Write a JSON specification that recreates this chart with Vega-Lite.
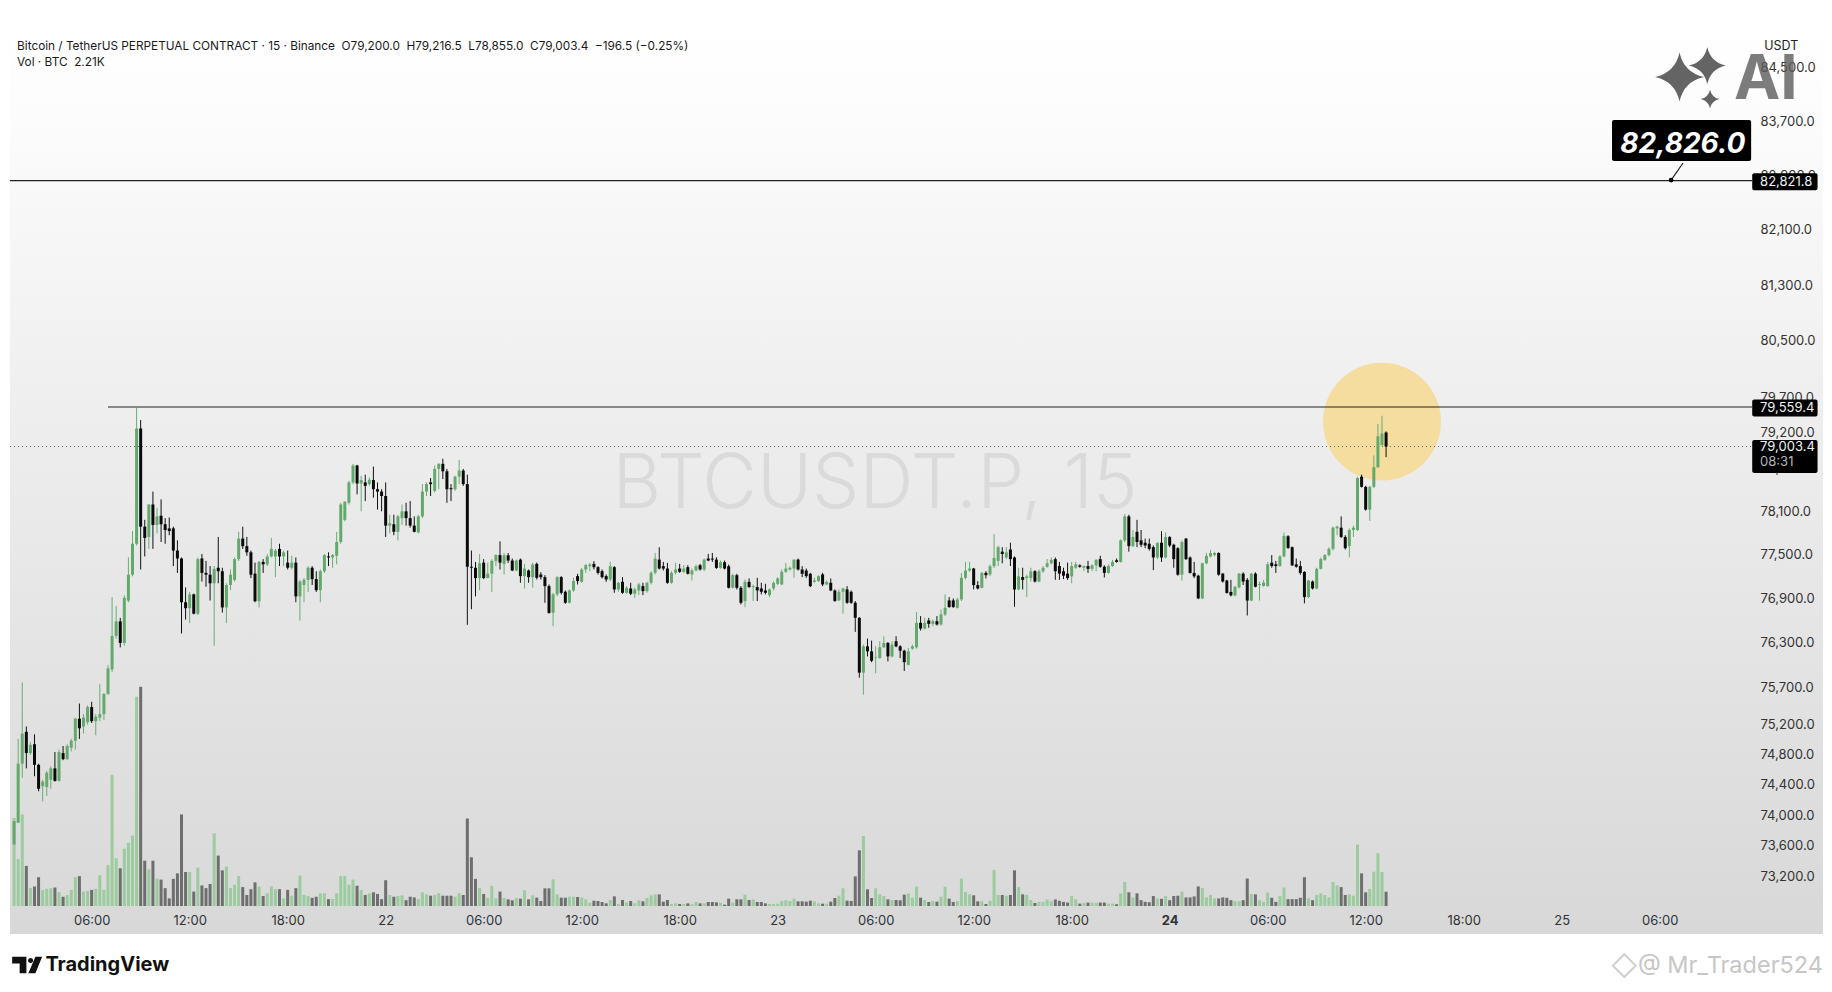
{
  "$schema": "https://vega.github.io/schema/vega-lite/v6.json",
  "description": "BTCUSDT.P 15 minute candles with volume, TradingView style",
  "width": 1813,
  "height": 907,
  "padding": {"left": 10, "top": 27, "right": 9, "bottom": 58},
  "autosize": "none",
  "background": "#ffffff",
  "config": {
    "font": "Inter",
    "view": {"stroke": null, "fill": {"gradient": "linear", "x1": 0, "y1": 0, "x2": 0, "y2": 1, "stops": [{"offset": 0, "color": "#ffffff"}, {"offset": 0.1, "color": "#fcfcfc"}, {"offset": 0.45, "color": "#ededed"}, {"offset": 1, "color": "#d8d8d8"}]}}
  },
  "datasets": {
    "candles": [
{"t":"2026-04-21T01:15","o":73616,"h":73923,"l":73616,"c":73923,"v":13620},
{"t":"2026-04-21T01:30","o":73900,"h":75009,"l":73900,"c":74678,"v":7260},
{"t":"2026-04-21T01:45","o":74678,"h":75764,"l":74490,"c":75080,"v":14150},
{"t":"2026-04-21T02:00","o":75103,"h":75174,"l":74617,"c":74820,"v":6200},
{"t":"2026-04-21T02:15","o":74820,"h":74962,"l":74796,"c":74929,"v":2756},
{"t":"2026-04-21T02:30","o":74938,"h":75070,"l":74513,"c":74664,"v":3020},
{"t":"2026-04-21T02:45","o":74664,"h":74678,"l":74315,"c":74348,"v":4450},
{"t":"2026-04-21T03:00","o":74381,"h":74466,"l":74183,"c":74442,"v":2490},
{"t":"2026-04-21T03:15","o":74372,"h":74584,"l":74254,"c":74560,"v":2650},
{"t":"2026-04-21T03:30","o":74466,"h":74645,"l":74348,"c":74617,"v":2756},
{"t":"2026-04-21T03:45","o":74617,"h":74834,"l":74442,"c":74452,"v":2860},
{"t":"2026-04-21T04:00","o":74452,"h":74867,"l":74442,"c":74834,"v":2120},
{"t":"2026-04-21T04:15","o":74820,"h":74914,"l":74726,"c":74740,"v":1430},
{"t":"2026-04-21T04:30","o":74740,"h":74938,"l":74726,"c":74914,"v":1700},
{"t":"2026-04-21T04:45","o":74891,"h":75009,"l":74844,"c":74985,"v":2490},
{"t":"2026-04-21T05:00","o":74985,"h":75292,"l":74867,"c":75278,"v":4450},
{"t":"2026-04-21T05:15","o":75278,"h":75481,"l":75009,"c":75150,"v":4610},
{"t":"2026-04-21T05:30","o":75174,"h":75339,"l":75080,"c":75292,"v":2230},
{"t":"2026-04-21T05:45","o":75231,"h":75457,"l":75198,"c":75434,"v":2330},
{"t":"2026-04-21T06:00","o":75434,"h":75504,"l":75221,"c":75245,"v":2490},
{"t":"2026-04-21T06:15","o":75245,"h":75339,"l":75056,"c":75306,"v":2650},
{"t":"2026-04-21T06:30","o":75292,"h":75740,"l":75245,"c":75339,"v":4770},
{"t":"2026-04-21T06:45","o":75339,"h":75622,"l":75259,"c":75608,"v":2490},
{"t":"2026-04-21T07:00","o":75608,"h":76000,"l":75599,"c":75953,"v":6310},
{"t":"2026-04-21T07:15","o":75939,"h":76920,"l":75906,"c":76392,"v":20250},
{"t":"2026-04-21T07:30","o":76392,"h":76802,"l":76354,"c":76590,"v":7370},
{"t":"2026-04-21T07:45","o":76590,"h":76637,"l":76236,"c":76297,"v":5830},
{"t":"2026-04-21T08:00","o":76297,"h":76944,"l":76260,"c":76911,"v":8850},
{"t":"2026-04-21T08:15","o":76873,"h":77463,"l":76850,"c":77227,"v":9750},
{"t":"2026-04-21T08:30","o":77227,"h":77827,"l":77204,"c":77652,"v":10870},
{"t":"2026-04-21T08:45","o":77652,"h":79560,"l":77628,"c":79257,"v":32330},
{"t":"2026-04-21T09:00","o":79257,"h":79375,"l":77298,"c":77888,"v":33870},
{"t":"2026-04-21T09:15","o":77888,"h":77982,"l":77477,"c":77732,"v":7000},
{"t":"2026-04-21T09:30","o":77746,"h":78195,"l":77581,"c":78195,"v":5670},
{"t":"2026-04-21T09:45","o":78195,"h":78374,"l":77581,"c":77912,"v":7000},
{"t":"2026-04-21T10:00","o":77912,"h":78148,"l":77794,"c":78030,"v":4240},
{"t":"2026-04-21T10:15","o":78039,"h":78266,"l":77676,"c":77921,"v":4080},
{"t":"2026-04-21T10:30","o":77921,"h":78006,"l":77652,"c":77841,"v":2760},
{"t":"2026-04-21T10:45","o":77864,"h":78015,"l":77770,"c":77827,"v":1170},
{"t":"2026-04-21T11:00","o":77864,"h":77888,"l":77345,"c":77558,"v":4190},
{"t":"2026-04-21T11:15","o":77558,"h":77699,"l":77251,"c":77449,"v":5040},
{"t":"2026-04-21T11:30","o":77449,"h":77463,"l":76425,"c":76850,"v":14150},
{"t":"2026-04-21T11:45","o":76850,"h":77053,"l":76614,"c":76769,"v":5250},
{"t":"2026-04-21T12:00","o":76769,"h":76991,"l":76566,"c":76958,"v":5250},
{"t":"2026-04-21T12:15","o":76958,"h":76968,"l":76684,"c":76694,"v":2230},
{"t":"2026-04-21T12:30","o":76694,"h":77463,"l":76675,"c":77440,"v":5940},
{"t":"2026-04-21T12:45","o":77449,"h":77510,"l":77133,"c":77251,"v":3180},
{"t":"2026-04-21T13:00","o":77251,"h":77416,"l":77062,"c":77227,"v":2760},
{"t":"2026-04-21T13:15","o":77227,"h":77345,"l":76873,"c":77109,"v":3390},
{"t":"2026-04-21T13:30","o":77109,"h":77345,"l":76260,"c":77307,"v":11240},
{"t":"2026-04-21T13:45","o":77322,"h":77746,"l":77109,"c":77274,"v":7790},
{"t":"2026-04-21T14:00","o":77274,"h":77322,"l":76708,"c":76779,"v":5510},
{"t":"2026-04-21T14:15","o":76779,"h":77109,"l":76566,"c":77086,"v":6100},
{"t":"2026-04-21T14:30","o":77086,"h":77298,"l":77015,"c":77227,"v":2760},
{"t":"2026-04-21T14:45","o":77156,"h":77463,"l":77133,"c":77440,"v":3290},
{"t":"2026-04-21T15:00","o":77440,"h":77817,"l":77416,"c":77723,"v":4610},
{"t":"2026-04-21T15:15","o":77723,"h":77888,"l":77581,"c":77619,"v":2920},
{"t":"2026-04-21T15:30","o":77619,"h":77746,"l":77487,"c":77534,"v":1700},
{"t":"2026-04-21T15:45","o":77534,"h":77558,"l":77180,"c":77227,"v":2600},
{"t":"2026-04-21T16:00","o":77241,"h":77392,"l":76850,"c":76864,"v":3660},
{"t":"2026-04-21T16:15","o":76864,"h":77416,"l":76779,"c":77402,"v":3020},
{"t":"2026-04-21T16:30","o":77402,"h":77440,"l":77251,"c":77369,"v":1540},
{"t":"2026-04-21T16:45","o":77369,"h":77510,"l":77345,"c":77477,"v":1960},
{"t":"2026-04-21T17:00","o":77477,"h":77732,"l":77463,"c":77581,"v":3020},
{"t":"2026-04-21T17:15","o":77477,"h":77581,"l":77194,"c":77558,"v":2600},
{"t":"2026-04-21T17:30","o":77581,"h":77652,"l":77345,"c":77477,"v":2600},
{"t":"2026-04-21T17:45","o":77477,"h":77558,"l":77345,"c":77534,"v":1170},
{"t":"2026-04-21T18:00","o":77392,"h":77558,"l":77298,"c":77322,"v":2490},
{"t":"2026-04-21T18:15","o":77322,"h":77487,"l":77298,"c":77392,"v":1590},
{"t":"2026-04-21T18:30","o":77392,"h":77463,"l":76850,"c":76930,"v":2760},
{"t":"2026-04-21T18:45","o":76930,"h":77156,"l":76600,"c":77133,"v":4720},
{"t":"2026-04-21T19:00","o":77086,"h":77180,"l":76850,"c":77156,"v":1700},
{"t":"2026-04-21T19:15","o":77156,"h":77345,"l":76991,"c":77322,"v":1540},
{"t":"2026-04-21T19:30","o":77322,"h":77345,"l":77086,"c":77166,"v":1270},
{"t":"2026-04-21T19:45","o":77166,"h":77274,"l":76991,"c":77015,"v":1430},
{"t":"2026-04-21T20:00","o":77015,"h":77298,"l":76850,"c":77274,"v":1960},
{"t":"2026-04-21T20:15","o":77274,"h":77510,"l":77251,"c":77496,"v":1960},
{"t":"2026-04-21T20:30","o":77477,"h":77534,"l":77345,"c":77463,"v":1060},
{"t":"2026-04-21T20:45","o":77463,"h":77510,"l":77322,"c":77496,"v":1060},
{"t":"2026-04-21T21:00","o":77487,"h":77817,"l":77369,"c":77676,"v":1960},
{"t":"2026-04-21T21:15","o":77676,"h":78218,"l":77652,"c":78195,"v":4610},
{"t":"2026-04-21T21:30","o":77982,"h":78242,"l":77959,"c":78233,"v":4610},
{"t":"2026-04-21T21:45","o":78218,"h":78525,"l":78195,"c":78502,"v":3290},
{"t":"2026-04-21T22:00","o":78502,"h":78761,"l":78478,"c":78738,"v":4080},
{"t":"2026-04-21T22:15","o":78738,"h":78747,"l":78336,"c":78487,"v":3130},
{"t":"2026-04-21T22:30","o":78487,"h":78596,"l":78100,"c":78535,"v":2490},
{"t":"2026-04-21T22:45","o":78502,"h":78610,"l":78242,"c":78454,"v":1700},
{"t":"2026-04-21T23:00","o":78478,"h":78572,"l":78454,"c":78539,"v":1960},
{"t":"2026-04-21T23:15","o":78535,"h":78723,"l":78289,"c":78407,"v":2120},
{"t":"2026-04-21T23:30","o":78407,"h":78502,"l":78124,"c":78374,"v":1860},
{"t":"2026-04-21T23:45","o":78374,"h":78407,"l":78100,"c":78313,"v":1060},
{"t":"2026-04-22T00:00","o":78313,"h":78502,"l":77746,"c":77902,"v":3980},
{"t":"2026-04-22T00:15","o":77902,"h":78053,"l":77794,"c":77935,"v":1700},
{"t":"2026-04-22T00:30","o":77921,"h":78053,"l":77770,"c":77817,"v":1430},
{"t":"2026-04-22T00:45","o":77817,"h":78053,"l":77699,"c":78030,"v":1540},
{"t":"2026-04-22T01:00","o":78006,"h":78195,"l":77912,"c":78100,"v":1640},
{"t":"2026-04-22T01:15","o":78100,"h":78218,"l":77902,"c":78006,"v":900},
{"t":"2026-04-22T01:30","o":78006,"h":78242,"l":77874,"c":77902,"v":1430},
{"t":"2026-04-22T01:45","o":77902,"h":78030,"l":77808,"c":77817,"v":1330},
{"t":"2026-04-22T02:00","o":77808,"h":78053,"l":77794,"c":78030,"v":1060},
{"t":"2026-04-22T02:15","o":78030,"h":78478,"l":78006,"c":78374,"v":2120},
{"t":"2026-04-22T02:30","o":78374,"h":78502,"l":78313,"c":78478,"v":1800},
{"t":"2026-04-22T02:45","o":78502,"h":78563,"l":78313,"c":78478,"v":1590},
{"t":"2026-04-22T03:00","o":78384,"h":78738,"l":78360,"c":78690,"v":1700},
{"t":"2026-04-22T03:15","o":78690,"h":78771,"l":78407,"c":78761,"v":1960},
{"t":"2026-04-22T03:30","o":78761,"h":78832,"l":78549,"c":78657,"v":1590},
{"t":"2026-04-22T03:45","o":78657,"h":78690,"l":78218,"c":78407,"v":1590},
{"t":"2026-04-22T04:00","o":78421,"h":78478,"l":78242,"c":78407,"v":1590},
{"t":"2026-04-22T04:15","o":78407,"h":78596,"l":78384,"c":78582,"v":1430},
{"t":"2026-04-22T04:30","o":78582,"h":78818,"l":78478,"c":78667,"v":1960},
{"t":"2026-04-22T04:45","o":78667,"h":78690,"l":78454,"c":78478,"v":1700},
{"t":"2026-04-22T05:00","o":78478,"h":78610,"l":76543,"c":77336,"v":13520},
{"t":"2026-04-22T05:15","o":77336,"h":77558,"l":76755,"c":77322,"v":7530},
{"t":"2026-04-22T05:30","o":77322,"h":77402,"l":76930,"c":77180,"v":4190},
{"t":"2026-04-22T05:45","o":77180,"h":77510,"l":77015,"c":77383,"v":2760},
{"t":"2026-04-22T06:00","o":77392,"h":77440,"l":77166,"c":77180,"v":1860},
{"t":"2026-04-22T06:15","o":77180,"h":77392,"l":77180,"c":77241,"v":1270},
{"t":"2026-04-22T06:30","o":77241,"h":77440,"l":76991,"c":77416,"v":3130},
{"t":"2026-04-22T06:45","o":77416,"h":77510,"l":77345,"c":77496,"v":1170},
{"t":"2026-04-22T07:00","o":77496,"h":77685,"l":77298,"c":77392,"v":2230},
{"t":"2026-04-22T07:15","o":77375,"h":77525,"l":77230,"c":77493,"v":1240},
{"t":"2026-04-22T07:30","o":77493,"h":77525,"l":77389,"c":77421,"v":1030},
{"t":"2026-04-22T07:45","o":77421,"h":77448,"l":77275,"c":77284,"v":880},
{"t":"2026-04-22T08:00","o":77284,"h":77434,"l":77275,"c":77421,"v":1240},
{"t":"2026-04-22T08:15","o":77434,"h":77448,"l":77116,"c":77207,"v":1130},
{"t":"2026-04-22T08:30","o":77207,"h":77375,"l":77038,"c":77311,"v":2420},
{"t":"2026-04-22T08:45","o":77284,"h":77298,"l":77116,"c":77193,"v":1030},
{"t":"2026-04-22T09:00","o":77193,"h":77389,"l":77048,"c":77366,"v":1650},
{"t":"2026-04-22T09:15","o":77375,"h":77393,"l":77161,"c":77184,"v":1290},
{"t":"2026-04-22T09:30","o":77230,"h":77261,"l":77161,"c":77193,"v":770},
{"t":"2026-04-22T09:45","o":77193,"h":77220,"l":76843,"c":77070,"v":2730},
{"t":"2026-04-22T10:00","o":77070,"h":77093,"l":76693,"c":76706,"v":2730},
{"t":"2026-04-22T10:15","o":76706,"h":76979,"l":76524,"c":76957,"v":4120},
{"t":"2026-04-22T10:30","o":76957,"h":77207,"l":76934,"c":77193,"v":1800},
{"t":"2026-04-22T10:45","o":77193,"h":77207,"l":76957,"c":76979,"v":1290},
{"t":"2026-04-22T11:00","o":76993,"h":77011,"l":76829,"c":76843,"v":1290},
{"t":"2026-04-22T11:15","o":76843,"h":77025,"l":76834,"c":77011,"v":1440},
{"t":"2026-04-22T11:30","o":77011,"h":77184,"l":76993,"c":77139,"v":1440},
{"t":"2026-04-22T11:45","o":77207,"h":77239,"l":77093,"c":77139,"v":1390},
{"t":"2026-04-22T12:00","o":77129,"h":77320,"l":77116,"c":77298,"v":1290},
{"t":"2026-04-22T12:15","o":77298,"h":77375,"l":77252,"c":77357,"v":1030},
{"t":"2026-04-22T12:30","o":77343,"h":77389,"l":77275,"c":77366,"v":520},
{"t":"2026-04-22T12:45","o":77375,"h":77412,"l":77298,"c":77330,"v":820},
{"t":"2026-04-22T13:00","o":77330,"h":77343,"l":77230,"c":77252,"v":770},
{"t":"2026-04-22T13:15","o":77275,"h":77298,"l":77175,"c":77193,"v":620},
{"t":"2026-04-22T13:30","o":77207,"h":77230,"l":77129,"c":77161,"v":410},
{"t":"2026-04-22T13:45","o":77161,"h":77402,"l":77139,"c":77343,"v":930},
{"t":"2026-04-22T14:00","o":77330,"h":77343,"l":76979,"c":77025,"v":1490},
{"t":"2026-04-22T14:15","o":77025,"h":77129,"l":76993,"c":77116,"v":310},
{"t":"2026-04-22T14:30","o":77129,"h":77193,"l":76966,"c":76979,"v":930},
{"t":"2026-04-22T14:45","o":76979,"h":77070,"l":76966,"c":77048,"v":520},
{"t":"2026-04-22T15:00","o":77038,"h":77116,"l":76947,"c":76966,"v":770},
{"t":"2026-04-22T15:15","o":76966,"h":77048,"l":76911,"c":77025,"v":410},
{"t":"2026-04-22T15:30","o":77011,"h":77116,"l":76947,"c":77093,"v":880},
{"t":"2026-04-22T15:45","o":77070,"h":77116,"l":76947,"c":77002,"v":720},
{"t":"2026-04-22T16:00","o":77002,"h":77129,"l":76979,"c":77116,"v":1240},
{"t":"2026-04-22T16:15","o":77116,"h":77275,"l":77093,"c":77252,"v":1650},
{"t":"2026-04-22T16:30","o":77252,"h":77525,"l":77230,"c":77448,"v":1800},
{"t":"2026-04-22T16:45","o":77434,"h":77603,"l":77298,"c":77311,"v":1800},
{"t":"2026-04-22T17:00","o":77343,"h":77402,"l":77284,"c":77311,"v":670},
{"t":"2026-04-22T17:15","o":77311,"h":77389,"l":77102,"c":77116,"v":930},
{"t":"2026-04-22T17:30","o":77116,"h":77275,"l":77102,"c":77252,"v":310},
{"t":"2026-04-22T17:45","o":77252,"h":77389,"l":77230,"c":77298,"v":410},
{"t":"2026-04-22T18:00","o":77311,"h":77375,"l":77252,"c":77266,"v":310},
{"t":"2026-04-22T18:15","o":77266,"h":77357,"l":77252,"c":77311,"v":310},
{"t":"2026-04-22T18:30","o":77330,"h":77357,"l":77230,"c":77239,"v":410},
{"t":"2026-04-22T18:45","o":77230,"h":77311,"l":77148,"c":77284,"v":260},
{"t":"2026-04-22T19:00","o":77284,"h":77366,"l":77275,"c":77343,"v":620},
{"t":"2026-04-22T19:15","o":77357,"h":77375,"l":77284,"c":77298,"v":410},
{"t":"2026-04-22T19:30","o":77298,"h":77448,"l":77275,"c":77434,"v":410},
{"t":"2026-04-22T19:45","o":77448,"h":77512,"l":77412,"c":77421,"v":620},
{"t":"2026-04-22T20:00","o":77448,"h":77525,"l":77402,"c":77434,"v":620},
{"t":"2026-04-22T20:15","o":77434,"h":77466,"l":77307,"c":77320,"v":570},
{"t":"2026-04-22T20:30","o":77320,"h":77421,"l":77307,"c":77398,"v":520},
{"t":"2026-04-22T20:45","o":77398,"h":77421,"l":77298,"c":77311,"v":210},
{"t":"2026-04-22T21:00","o":77343,"h":77366,"l":77038,"c":77048,"v":1130},
{"t":"2026-04-22T21:15","o":77048,"h":77239,"l":77038,"c":77220,"v":520},
{"t":"2026-04-22T21:30","o":77220,"h":77239,"l":77025,"c":77048,"v":1030},
{"t":"2026-04-22T21:45","o":77048,"h":77070,"l":76820,"c":76843,"v":1030},
{"t":"2026-04-22T22:00","o":76866,"h":77161,"l":76784,"c":77129,"v":1750},
{"t":"2026-04-22T22:15","o":77129,"h":77175,"l":77048,"c":77057,"v":930},
{"t":"2026-04-22T22:30","o":77057,"h":77093,"l":76866,"c":77070,"v":1030},
{"t":"2026-04-22T22:45","o":77057,"h":77184,"l":76866,"c":77011,"v":620},
{"t":"2026-04-22T23:00","o":77038,"h":77116,"l":76957,"c":76993,"v":620},
{"t":"2026-04-22T23:15","o":77011,"h":77102,"l":76957,"c":76979,"v":410},
{"t":"2026-04-22T23:30","o":76947,"h":77038,"l":76920,"c":77025,"v":310},
{"t":"2026-04-22T23:45","o":77038,"h":77139,"l":77011,"c":77116,"v":310},
{"t":"2026-04-23T00:00","o":77102,"h":77193,"l":77084,"c":77175,"v":360},
{"t":"2026-04-23T00:15","o":77093,"h":77298,"l":77084,"c":77266,"v":770},
{"t":"2026-04-23T00:30","o":77266,"h":77389,"l":77252,"c":77311,"v":880},
{"t":"2026-04-23T00:45","o":77298,"h":77343,"l":77284,"c":77320,"v":770},
{"t":"2026-04-23T01:00","o":77311,"h":77434,"l":77184,"c":77434,"v":1130},
{"t":"2026-04-23T01:15","o":77434,"h":77448,"l":77284,"c":77298,"v":720},
{"t":"2026-04-23T01:30","o":77298,"h":77343,"l":77193,"c":77239,"v":720},
{"t":"2026-04-23T01:45","o":77284,"h":77311,"l":77184,"c":77207,"v":670},
{"t":"2026-04-23T02:00","o":77239,"h":77252,"l":77057,"c":77070,"v":820},
{"t":"2026-04-23T02:15","o":77129,"h":77184,"l":77116,"c":77148,"v":720},
{"t":"2026-04-23T02:30","o":77139,"h":77220,"l":77129,"c":77207,"v":410},
{"t":"2026-04-23T02:45","o":77230,"h":77252,"l":77070,"c":77093,"v":360},
{"t":"2026-04-23T03:00","o":77093,"h":77148,"l":77084,"c":77129,"v":360},
{"t":"2026-04-23T03:15","o":77116,"h":77175,"l":77002,"c":77011,"v":670},
{"t":"2026-04-23T03:30","o":77011,"h":77025,"l":76857,"c":76866,"v":1240},
{"t":"2026-04-23T03:45","o":76875,"h":77025,"l":76866,"c":76993,"v":1600},
{"t":"2026-04-23T04:00","o":76993,"h":77048,"l":76693,"c":77038,"v":2730},
{"t":"2026-04-23T04:15","o":77025,"h":77070,"l":76829,"c":76843,"v":820},
{"t":"2026-04-23T04:30","o":76993,"h":77011,"l":76829,"c":76843,"v":770},
{"t":"2026-04-23T04:45","o":76843,"h":76866,"l":76447,"c":76638,"v":4580},
{"t":"2026-04-23T05:00","o":76638,"h":76647,"l":75828,"c":75896,"v":8600},
{"t":"2026-04-23T05:15","o":75896,"h":76274,"l":75601,"c":76251,"v":10820},
{"t":"2026-04-23T05:30","o":76251,"h":76356,"l":76115,"c":76183,"v":2580},
{"t":"2026-04-23T05:45","o":76183,"h":76329,"l":76037,"c":76056,"v":1240},
{"t":"2026-04-23T06:00","o":76092,"h":76251,"l":75887,"c":76101,"v":2730},
{"t":"2026-04-23T06:15","o":76092,"h":76320,"l":76083,"c":76238,"v":1800},
{"t":"2026-04-23T06:30","o":76238,"h":76388,"l":76229,"c":76297,"v":1550},
{"t":"2026-04-23T06:45","o":76297,"h":76310,"l":76047,"c":76115,"v":1030},
{"t":"2026-04-23T07:00","o":76115,"h":76320,"l":76101,"c":76274,"v":930},
{"t":"2026-04-23T07:15","o":76320,"h":76388,"l":76238,"c":76251,"v":930},
{"t":"2026-04-23T07:30","o":76251,"h":76265,"l":76092,"c":76192,"v":880},
{"t":"2026-04-23T07:45","o":76192,"h":76206,"l":75919,"c":76037,"v":1750},
{"t":"2026-04-23T08:00","o":76001,"h":76229,"l":75992,"c":76183,"v":1960},
{"t":"2026-04-23T08:15","o":76219,"h":76274,"l":76206,"c":76251,"v":1290},
{"t":"2026-04-23T08:30","o":76238,"h":76715,"l":76219,"c":76570,"v":2990},
{"t":"2026-04-23T08:45","o":76570,"h":76661,"l":76465,"c":76492,"v":1290},
{"t":"2026-04-23T09:00","o":76492,"h":76638,"l":76479,"c":76570,"v":930},
{"t":"2026-04-23T09:15","o":76602,"h":76638,"l":76502,"c":76556,"v":620},
{"t":"2026-04-23T09:30","o":76556,"h":76615,"l":76524,"c":76592,"v":770},
{"t":"2026-04-23T09:45","o":76592,"h":76661,"l":76533,"c":76547,"v":670},
{"t":"2026-04-23T10:00","o":76547,"h":76752,"l":76533,"c":76684,"v":1440},
{"t":"2026-04-23T10:15","o":76684,"h":76957,"l":76661,"c":76775,"v":2990},
{"t":"2026-04-23T10:30","o":76875,"h":76920,"l":76775,"c":76784,"v":1130},
{"t":"2026-04-23T10:45","o":76875,"h":76902,"l":76775,"c":76784,"v":620},
{"t":"2026-04-23T11:00","o":76775,"h":76911,"l":76765,"c":76888,"v":770},
{"t":"2026-04-23T11:15","o":76888,"h":77252,"l":76866,"c":77184,"v":4220},
{"t":"2026-04-23T11:30","o":77184,"h":77402,"l":77161,"c":77284,"v":2160},
{"t":"2026-04-23T11:45","o":77284,"h":77402,"l":77266,"c":77311,"v":1800},
{"t":"2026-04-23T12:00","o":77311,"h":77320,"l":77025,"c":77084,"v":1650},
{"t":"2026-04-23T12:15","o":77084,"h":77139,"l":77025,"c":77038,"v":720},
{"t":"2026-04-23T12:30","o":77048,"h":77261,"l":77038,"c":77252,"v":720},
{"t":"2026-04-23T12:45","o":77252,"h":77275,"l":77175,"c":77220,"v":310},
{"t":"2026-04-23T13:00","o":77230,"h":77366,"l":77207,"c":77343,"v":820},
{"t":"2026-04-23T13:15","o":77343,"h":77785,"l":77320,"c":77457,"v":5560},
{"t":"2026-04-23T13:30","o":77416,"h":77628,"l":77345,"c":77605,"v":1700},
{"t":"2026-04-23T13:45","o":77543,"h":77605,"l":77383,"c":77510,"v":1700},
{"t":"2026-04-23T14:00","o":77463,"h":77605,"l":77440,"c":77534,"v":1590},
{"t":"2026-04-23T14:15","o":77572,"h":77666,"l":77345,"c":77440,"v":1700},
{"t":"2026-04-23T14:30","o":77463,"h":77477,"l":76788,"c":77024,"v":5510},
{"t":"2026-04-23T14:45","o":77024,"h":77322,"l":77015,"c":77204,"v":2920},
{"t":"2026-04-23T15:00","o":77194,"h":77322,"l":77024,"c":77156,"v":1800},
{"t":"2026-04-23T15:15","o":77180,"h":77227,"l":76920,"c":77204,"v":1700},
{"t":"2026-04-23T15:30","o":77180,"h":77322,"l":77133,"c":77274,"v":900},
{"t":"2026-04-23T15:45","o":77274,"h":77289,"l":77119,"c":77133,"v":480},
{"t":"2026-04-23T16:00","o":77133,"h":77298,"l":77123,"c":77274,"v":640},
{"t":"2026-04-23T16:15","o":77274,"h":77345,"l":77251,"c":77322,"v":640},
{"t":"2026-04-23T16:30","o":77336,"h":77440,"l":77322,"c":77383,"v":1010},
{"t":"2026-04-23T16:45","o":77383,"h":77463,"l":77369,"c":77430,"v":740},
{"t":"2026-04-23T17:00","o":77440,"h":77463,"l":77156,"c":77274,"v":1010},
{"t":"2026-04-23T17:15","o":77345,"h":77402,"l":77156,"c":77241,"v":800},
{"t":"2026-04-23T17:30","o":77274,"h":77322,"l":77166,"c":77213,"v":640},
{"t":"2026-04-23T17:45","o":77241,"h":77392,"l":77156,"c":77180,"v":530},
{"t":"2026-04-23T18:00","o":77204,"h":77402,"l":77109,"c":77345,"v":1540},
{"t":"2026-04-23T18:15","o":77322,"h":77402,"l":77307,"c":77369,"v":1060},
{"t":"2026-04-23T18:30","o":77355,"h":77369,"l":77322,"c":77336,"v":370},
{"t":"2026-04-23T18:45","o":77322,"h":77355,"l":77274,"c":77345,"v":480},
{"t":"2026-04-23T19:00","o":77345,"h":77416,"l":77251,"c":77307,"v":530},
{"t":"2026-04-23T19:15","o":77307,"h":77369,"l":77274,"c":77355,"v":530},
{"t":"2026-04-23T19:30","o":77355,"h":77440,"l":77274,"c":77430,"v":480},
{"t":"2026-04-23T19:45","o":77440,"h":77487,"l":77322,"c":77336,"v":530},
{"t":"2026-04-23T20:00","o":77336,"h":77355,"l":77189,"c":77251,"v":530},
{"t":"2026-04-23T20:15","o":77251,"h":77369,"l":77241,"c":77345,"v":370},
{"t":"2026-04-23T20:30","o":77345,"h":77430,"l":77336,"c":77402,"v":370},
{"t":"2026-04-23T20:45","o":77425,"h":77449,"l":77392,"c":77402,"v":270},
{"t":"2026-04-23T21:00","o":77402,"h":77713,"l":77392,"c":77699,"v":1960},
{"t":"2026-04-23T21:15","o":77699,"h":78063,"l":77676,"c":78030,"v":3710},
{"t":"2026-04-23T21:30","o":78030,"h":78053,"l":77543,"c":77619,"v":2120},
{"t":"2026-04-23T21:45","o":77619,"h":77841,"l":77605,"c":77746,"v":1330},
{"t":"2026-04-23T22:00","o":77817,"h":77982,"l":77605,"c":77676,"v":1960},
{"t":"2026-04-23T22:15","o":77699,"h":77841,"l":77605,"c":77638,"v":900},
{"t":"2026-04-23T22:30","o":77666,"h":77723,"l":77591,"c":77628,"v":640},
{"t":"2026-04-23T22:45","o":77652,"h":77723,"l":77558,"c":77581,"v":580},
{"t":"2026-04-23T23:00","o":77605,"h":77628,"l":77289,"c":77463,"v":1540},
{"t":"2026-04-23T23:15","o":77463,"h":77676,"l":77440,"c":77661,"v":1170},
{"t":"2026-04-23T23:30","o":77666,"h":77827,"l":77402,"c":77463,"v":1110},
{"t":"2026-04-23T23:45","o":77463,"h":77808,"l":77449,"c":77746,"v":1540},
{"t":"2026-04-24T00:00","o":77746,"h":77756,"l":77605,"c":77628,"v":900},
{"t":"2026-04-24T00:15","o":77638,"h":77652,"l":77322,"c":77440,"v":1540},
{"t":"2026-04-24T00:30","o":77591,"h":77605,"l":77213,"c":77227,"v":1590},
{"t":"2026-04-24T00:45","o":77227,"h":77699,"l":77147,"c":77676,"v":2230},
{"t":"2026-04-24T01:00","o":77723,"h":77732,"l":77430,"c":77440,"v":1330},
{"t":"2026-04-24T01:15","o":77463,"h":77477,"l":77241,"c":77251,"v":1330},
{"t":"2026-04-24T01:30","o":77251,"h":77402,"l":77180,"c":77204,"v":1480},
{"t":"2026-04-24T01:45","o":77213,"h":77227,"l":76892,"c":76902,"v":3020},
{"t":"2026-04-24T02:00","o":76902,"h":77392,"l":76892,"c":77383,"v":2760},
{"t":"2026-04-24T02:15","o":77383,"h":77525,"l":77369,"c":77487,"v":1330},
{"t":"2026-04-24T02:30","o":77477,"h":77567,"l":77463,"c":77525,"v":1700},
{"t":"2026-04-24T02:45","o":77496,"h":77543,"l":77477,"c":77525,"v":1170},
{"t":"2026-04-24T03:00","o":77525,"h":77534,"l":77213,"c":77227,"v":1170},
{"t":"2026-04-24T03:15","o":77241,"h":77251,"l":77119,"c":77133,"v":1330},
{"t":"2026-04-24T03:30","o":77147,"h":77156,"l":76968,"c":76977,"v":1270},
{"t":"2026-04-24T03:45","o":76991,"h":77156,"l":76930,"c":76944,"v":900},
{"t":"2026-04-24T04:00","o":76944,"h":77071,"l":76930,"c":77062,"v":740},
{"t":"2026-04-24T04:15","o":77053,"h":77251,"l":77038,"c":77241,"v":740},
{"t":"2026-04-24T04:30","o":77241,"h":77260,"l":77086,"c":77133,"v":900},
{"t":"2026-04-24T04:45","o":77156,"h":77180,"l":76670,"c":76873,"v":4240},
{"t":"2026-04-24T05:00","o":76873,"h":77251,"l":76864,"c":77241,"v":1860},
{"t":"2026-04-24T05:15","o":77241,"h":77260,"l":77053,"c":77062,"v":1800},
{"t":"2026-04-24T05:30","o":77086,"h":77133,"l":76873,"c":77100,"v":900},
{"t":"2026-04-24T05:45","o":77071,"h":77156,"l":77062,"c":77119,"v":640},
{"t":"2026-04-24T06:00","o":77071,"h":77402,"l":77062,"c":77369,"v":2070},
{"t":"2026-04-24T06:15","o":77392,"h":77496,"l":77322,"c":77345,"v":1270},
{"t":"2026-04-24T06:30","o":77369,"h":77416,"l":77251,"c":77345,"v":640},
{"t":"2026-04-24T06:45","o":77345,"h":77496,"l":77336,"c":77477,"v":1540},
{"t":"2026-04-24T07:00","o":77477,"h":77808,"l":77463,"c":77761,"v":2860},
{"t":"2026-04-24T07:15","o":77756,"h":77770,"l":77581,"c":77595,"v":1060},
{"t":"2026-04-24T07:30","o":77605,"h":77614,"l":77345,"c":77355,"v":1060},
{"t":"2026-04-24T07:45","o":77369,"h":77449,"l":77322,"c":77336,"v":1060},
{"t":"2026-04-24T08:00","o":77345,"h":77416,"l":77227,"c":77251,"v":1270},
{"t":"2026-04-24T08:15","o":77265,"h":77274,"l":76835,"c":76920,"v":4450},
{"t":"2026-04-24T08:30","o":76920,"h":77156,"l":76911,"c":77147,"v":1170},
{"t":"2026-04-24T08:45","o":77133,"h":77147,"l":77024,"c":77038,"v":900},
{"t":"2026-04-24T09:00","o":77038,"h":77322,"l":77024,"c":77307,"v":1700},
{"t":"2026-04-24T09:15","o":77307,"h":77463,"l":77298,"c":77440,"v":1960},
{"t":"2026-04-24T09:30","o":77430,"h":77510,"l":77416,"c":77496,"v":1700},
{"t":"2026-04-24T09:45","o":77496,"h":77605,"l":77477,"c":77581,"v":1330},
{"t":"2026-04-24T10:00","o":77581,"h":77888,"l":77558,"c":77874,"v":3710},
{"t":"2026-04-24T10:15","o":77864,"h":77902,"l":77770,"c":77888,"v":3180},
{"t":"2026-04-24T10:30","o":77874,"h":78030,"l":77732,"c":77746,"v":2920},
{"t":"2026-04-24T10:45","o":77746,"h":77770,"l":77572,"c":77591,"v":1700},
{"t":"2026-04-24T11:00","o":77619,"h":77864,"l":77463,"c":77841,"v":1800},
{"t":"2026-04-24T11:15","o":77841,"h":77902,"l":77746,"c":77874,"v":1590},
{"t":"2026-04-24T11:30","o":77841,"h":78582,"l":77827,"c":78563,"v":9490},
{"t":"2026-04-24T11:45","o":78582,"h":78610,"l":78431,"c":78440,"v":5040},
{"t":"2026-04-24T12:00","o":78440,"h":78454,"l":78110,"c":78124,"v":2120},
{"t":"2026-04-24T12:15","o":78124,"h":78454,"l":77968,"c":78440,"v":2650},
{"t":"2026-04-24T12:30","o":78440,"h":78879,"l":78421,"c":78714,"v":5300},
{"t":"2026-04-24T12:45","o":78714,"h":79318,"l":78705,"c":79148,"v":8160},
{"t":"2026-04-24T13:00","o":79021,"h":79436,"l":79021,"c":79186,"v":5250},
{"t":"2026-04-24T13:15","o":79200,"h":79216.5,"l":78855,"c":79003.4,"v":2210}
    ],
    "tags": [
      {"t": "2026-04-25T11:40", "t2": "2026-04-25T15:40", "lo": 82680, "hi": 82930},
      {"t": "2026-04-25T11:40", "t2": "2026-04-25T15:40", "lo": 79425, "hi": 79665},
      {"t": "2026-04-25T11:40", "t2": "2026-04-25T15:40", "lo": 78632, "hi": 79094},
      {"t": "2026-04-25T03:05", "t2": "2026-04-25T11:36", "lo": 83110, "hi": 83716}
    ],
    "tagText": [
      {"t": "2026-04-25T12:09", "price": 82805, "label": "82,821.8", "tone": "a"},
      {"t": "2026-04-25T12:09", "price": 79545, "label": "79,559.4", "tone": "a"},
      {"t": "2026-04-25T12:09", "price": 78990, "label": "79,003.4", "tone": "a"},
      {"t": "2026-04-25T12:09", "price": 78785, "label": "08:31", "tone": "b"}
    ]
  },
  "encoding": {
    "x": {
      "field": "t",
      "type": "temporal",
      "title": null,
      "scale": {"domain": ["2026-04-21T01:00", "2026-04-25T16:00"], "padding": 0},
      "axis": {
        "orient": "bottom",
        "values": ["2026-04-21T06:00", "2026-04-21T12:00", "2026-04-21T18:00", "2026-04-22T00:00", "2026-04-22T06:00", "2026-04-22T12:00", "2026-04-22T18:00", "2026-04-23T00:00", "2026-04-23T06:00", "2026-04-23T12:00", "2026-04-23T18:00", "2026-04-24T00:00", "2026-04-24T06:00", "2026-04-24T12:00", "2026-04-24T18:00", "2026-04-25T00:00", "2026-04-25T06:00"],
        "labelExpr": "hours(datum.value) == 0 ? timeFormat(datum.value, '%d') : timeFormat(datum.value, '%H:%M')",
        "labelFontWeight": {"condition": {"test": "timeFormat(datum.value, '%d %H') == '24 00'", "value": "bold"}, "value": "normal"},
        "offset": -20,
        "labelPadding": 0,
        "ticks": false,
        "domain": false,
        "grid": false,
        "labelFontSize": 13,
        "labelColor": "#333333",
        "labelOverlap": false,
        "labelFlush": false
      }
    }
  },
  "resolve": {"scale": {"y": "independent"}},
  "layer": [
    {
      "data": {"name": "candles"},
      "mark": {"type": "bar", "size": 3},
      "encoding": {
        "y": {"field": "v", "type": "quantitative", "scale": {"domain": [-4326, 135810], "nice": false, "zero": false}, "axis": null},
        "color": {"condition": {"test": "datum.c >= datum.o", "value": "#9bcb9e"}, "value": "#6e6e6e"}
      }
    },
    {
      "encoding": {
        "y": {
          "field": "price",
          "type": "quantitative",
          "title": null,
          "scale": {"type": "log", "domain": [72456, 85110], "nice": false},
          "axis": {
            "orient": "right",
            "values": [84500, 83700, 82900, 82100, 81300, 80500, 79700, 79200, 78700, 78100, 77500, 76900, 76300, 75700, 75200, 74800, 74400, 74000, 73600, 73200],
            "format": ",.1f",
            "offset": -71,
            "labelPadding": 8,
            "labelAlign": "left",
            "ticks": false,
            "domain": false,
            "grid": false,
            "labelFontSize": 13,
            "labelColor": "#333333",
            "labelOverlap": false,
            "labelFlush": false
          }
        }
      },
      "layer": [
        {
          "data": {"values": [{"t": "2026-04-22T13:53", "price": 78145, "label": "BTCUSDT.P, 15"}]},
          "mark": {"type": "text", "align": "left", "baseline": "alphabetic", "fontSize": 75, "fontWeight": 300, "color": "#dadada"},
          "encoding": {"text": {"field": "label"}}
        },
        {
          "data": {"values": [{"t": "2026-04-24T13:00", "price": 79353}]},
          "mark": {"type": "point", "shape": "circle", "filled": true, "size": 13900, "color": "#f5dc9f", "opacity": 1}
        },
        {
          "data": {"values": [
            {"t": "2026-04-21T01:00", "t2": "2026-04-25T11:40", "price": 82821.8},
            {"t": "2026-04-21T07:00", "t2": "2026-04-25T11:40", "price": 79559.4}
          ]},
          "mark": {"type": "rule", "color": "#222222", "strokeWidth": 1.2},
          "encoding": {"x2": {"field": "t2"}}
        },
        {
          "data": {"values": [{"t": "2026-04-21T01:00", "t2": "2026-04-25T11:40", "price": 79003.4}]},
          "mark": {"type": "rule", "color": "#666666", "strokeWidth": 1, "strokeDash": [1, 3]},
          "encoding": {"x2": {"field": "t2"}}
        },
        {
          "data": {"name": "candles"},
          "mark": {"type": "rule", "strokeWidth": 1},
          "encoding": {
            "y": {"field": "l", "type": "quantitative"},
            "y2": {"field": "h"},
            "color": {"condition": {"test": "datum.c >= datum.o", "value": "#6aad72"}, "value": "#111111"}
          }
        },
        {
          "data": {"name": "candles"},
          "mark": {"type": "bar", "size": 3},
          "encoding": {
            "y": {"field": "o", "type": "quantitative"},
            "y2": {"field": "c"},
            "color": {"condition": {"test": "datum.c >= datum.o", "value": "#63a96c"}, "value": "#0a0a0a"}
          }
        },
        {
          "data": {"name": "tags"},
          "mark": {"type": "rect", "color": "#000000", "cornerRadius": 2},
          "encoding": {
            "x2": {"field": "t2"},
            "y": {"field": "lo", "type": "quantitative"},
            "y2": {"field": "hi"}
          }
        },
        {
          "data": {"name": "tagText"},
          "mark": {"type": "text", "align": "left", "baseline": "middle", "fontSize": 13},
          "encoding": {
            "text": {"field": "label"},
            "color": {"field": "tone", "type": "nominal", "scale": {"domain": ["a", "b"], "range": ["#f2f2f2", "#b5b5b5"]}, "legend": null}
          }
        },
        {
          "data": {"values": [{"t": "2026-04-25T07:25", "price": 83350, "label": "82,826.0"}]},
          "mark": {"type": "text", "align": "center", "baseline": "middle", "fontSize": 28, "fontWeight": 700, "fontStyle": "italic", "color": "#ffffff"},
          "encoding": {"text": {"field": "label"}}
        },
        {
          "data": {"values": [{"t": "2026-04-25T06:42", "t2": "2026-04-25T07:26", "price": 82829, "p2": 83080}]},
          "mark": {"type": "rule", "color": "#222222", "strokeWidth": 1.2},
          "encoding": {"x2": {"field": "t2"}, "y2": {"field": "p2"}}
        },
        {
          "data": {"values": [{"t": "2026-04-25T06:42", "price": 82829}]},
          "mark": {"type": "point", "shape": "circle", "filled": true, "size": 22, "color": "#000000", "opacity": 1}
        },
        {
          "data": {"values": [{"t": "2026-04-21T01:26", "price": 84825, "label": "Bitcoin / TetherUS PERPETUAL CONTRACT · 15 · Binance\u00a0\u00a0O79,200.0\u00a0\u00a0H79,216.5\u00a0\u00a0L78,855.0\u00a0\u00a0C79,003.4\u00a0\u00a0−196.5 (−0.25%)"}, {"t": "2026-04-21T01:26", "price": 84580, "label": "Vol · BTC\u00a0\u00a02.21K"}]},
          "mark": {"type": "text", "align": "left", "baseline": "middle", "fontSize": 11.8, "color": "#1a1a1a"},
          "encoding": {"text": {"field": "label"}}
        },
        {
          "data": {"values": [{"t": "2026-04-25T12:24", "price": 84825, "label": "USDT"}]},
          "mark": {"type": "text", "align": "left", "baseline": "middle", "fontSize": 12.5, "color": "#222222"},
          "encoding": {"text": {"field": "label"}}
        },
        {
          "data": {"values": [{"t": "2026-04-25T07:13", "price": 84358, "sz": "big"}, {"t": "2026-04-25T08:55", "price": 84530, "sz": "small"}, {"t": "2026-04-25T09:05", "price": 84029, "sz": "mid"}]},
          "mark": {"type": "point", "filled": true, "color": "#5c5c5c", "opacity": 0.95, "shape": "M0,-1 Q0.18,-0.18 1,0 Q0.18,0.18 0,1 Q-0.18,0.18 -1,0 Q-0.18,-0.18 0,-1 Z"},
          "encoding": {"size": {"field": "sz", "type": "nominal", "scale": {"domain": ["big", "small", "mid"], "range": [2400, 350, 900]}, "legend": null}}
        },
        {
          "data": {"values": [{"t": "2026-04-25T12:30", "price": 84029, "label": "AI"}]},
          "mark": {"type": "text", "align": "center", "baseline": "alphabetic", "fontSize": 62, "fontWeight": 700, "color": "#5c5c5c", "opacity": 0.8},
          "encoding": {"text": {"field": "label"}}
        },
        {
          "data": {"values": [{"t": "2026-04-21T02:03", "price": 72058}]},
          "mark": {"type": "point", "filled": true, "color": "#111111", "opacity": 1, "size": 900, "shape": "M-1,-0.55 H-0.05 V0.55 H-0.5 V-0.1 H-1 Z M0.4,-0.3 A0.17,0.17 0 1 1 0.06,-0.3 A0.17,0.17 0 1 1 0.4,-0.3 Z M0.55,-0.55 H1 L0.55,0.55 H0.08 Z"}
        },
        {
          "data": {"values": [{"t": "2026-04-21T03:10", "price": 72058, "label": "TradingView"}]},
          "mark": {"type": "text", "align": "left", "baseline": "middle", "fontSize": 20, "fontWeight": 700, "color": "#111111"},
          "encoding": {"text": {"field": "label"}}
        },
        {
          "data": {"values": [{"t": "2026-04-25T03:50", "price": 72050}]},
          "mark": {"type": "point", "shape": "diamond", "filled": false, "size": 520, "color": "#cfcfcf", "strokeWidth": 2, "opacity": 1}
        },
        {
          "data": {"values": [{"t": "2026-04-25T04:40", "price": 72050, "label": "@ Mr_Trader524"}]},
          "mark": {"type": "text", "align": "left", "baseline": "middle", "fontSize": 23.5, "color": "#c6c6c6"},
          "encoding": {"text": {"field": "label"}}
        }
      ]
    }
  ]
}
